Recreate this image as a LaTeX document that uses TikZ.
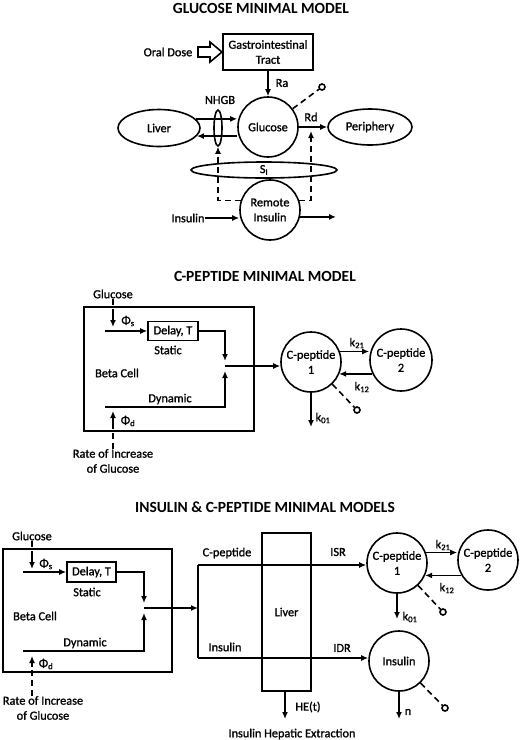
\documentclass[tikz,border=0pt]{standalone}
\usepackage{fontspec}
\setmainfont{Carlito}
\newfontfamily\lblfont{Carlito}[FakeBold=1.2]
\usetikzlibrary{arrows.meta,shapes.geometric}
\begin{document}
\begin{tikzpicture}[x=1pt,y=-1pt,
  lw/.style={line width=1.6pt},
  arr/.style={lw,-{Latex[length=7pt,width=6pt]}},
  dsh/.style={lw,dash pattern=on 6pt off 4pt},
  darr/.style={dsh,-{Latex[length=7pt,width=6pt]}},
  lbl/.style={font=\lblfont\fontsize{12.3}{15}\selectfont, inner sep=0pt, align=center},
  ttl/.style={font=\fontsize{15.5}{18}\selectfont\bfseries, inner sep=0pt},
  circ/.style={circle,draw,lw,minimum size=60pt,inner sep=0pt,align=center,font=\lblfont\fontsize{12.3}{15}\selectfont},
  ell/.style={ellipse,draw,lw,inner sep=0pt,font=\lblfont\fontsize{12.3}{15}\selectfont},
  boxn/.style={rectangle,draw,lw,inner sep=0pt,align=center,font=\lblfont\fontsize{12.3}{15}\selectfont},
  sinkc/.style={circle,draw,lw,minimum size=6pt,inner sep=0pt},
]
\useasboundingbox (0,0) rectangle (520,740);
\fill[white] (0,0) rectangle (520,740);

% ---------- Glucose minimal model ----------
\node[ttl] (t1) at (261,8) {GLUCOSE MINIMAL MODEL};
\node[boxn, minimum width=90pt, minimum height=36pt] (git) at (268,52) {Gastrointestinal\\Tract};
\node[lbl] (oral) at (168,52) {Oral Dose};
\draw[lw, fill=white] (198,47) -- (210,47) -- (210,42) -- (222,52) -- (210,62) -- (210,57) -- (198,57) -- cycle;
\node[circ] (glu) at (268,127) {Glucose};
\draw[arr] (git.south) -- (glu.north);
\node[lbl] (ra) at (282,83) {Ra};
\node[sinkc] (s1) at (322,87) {};
\draw[dsh] (glu) -- (s1);
\node[ell, minimum width=82pt, minimum height=37pt] (liver) at (159,128) {Liver};
\node[ell, minimum width=84pt, minimum height=36pt] (peri) at (370,127) {Periphery};
\draw[arr] (liver.14) -- (liver.14 -| glu.west);
\draw[arr] (liver.-12 -| glu.west) -- (liver.-12);
\node[ellipse, draw, lw, minimum width=8pt, minimum height=36pt, inner sep=0pt] (nhgb) at (218,128) {};
\node[lbl] (nhgbl) at (220,100) {NHGB};
\draw[arr] (glu) -- (peri);
\node[lbl] (rd) at (311,117) {Rd};
\node[ell, minimum width=146pt, minimum height=16pt] (si) at (264,170) {S\textsubscript{I}};
\node[circ] (rem) at (270,210) {Remote\\Insulin};
\coordinate (rdtip) at (311,131);
\draw[darr] (rem.162) -| (nhgb.south);
\draw[darr] (rem.18) -| (rdtip);
\node[lbl] (insin) at (188,218) {Insulin};
\draw[arr] (insin.east) -- (insin.east -| rem.west);
\coordinate (remout) at (336,0);
\draw[arr] (rem.-13) -- (rem.-13 -| remout);

% ---------- C-peptide minimal model ----------
\node[ttl] (t2) at (265,276) {C-PEPTIDE MINIMAL MODEL};
\node[lbl] (g2) at (113,294) {Glucose};
\node[boxn, minimum width=170pt, minimum height=124pt] (beta2) at (169,369) {};
\node[lbl] (bc2) at (117,373) {Beta Cell};
\coordinate (ps2) at (113,314);
\coordinate (ps2t) at (113,327);
\draw[dsh] (g2.south) -- (ps2);
\draw[arr] (ps2) -- (ps2t);
\node[lbl] (phis2) at (128,321) {Φ\textsubscript{s}};
\node[boxn, minimum width=50pt, minimum height=19pt] (d2) at (173,331) {Delay, T};
\coordinate (h2) at (105,331);
\draw[arr] (h2) -- (d2.west);
\node[lbl] (st2) at (168,350) {Static};
\coordinate (ja2) at (225,361);
\draw[arr] (d2.east) -| (ja2);
\coordinate (dy2) at (105,407);
\coordinate (jb2) at (225,371);
\draw[arr] (dy2) -| (jb2);
\node[lbl] (dyn2) at (170,399) {Dynamic};
\coordinate (jc2) at (225,366);
\node[circ] (c1) at (311,362) {C-peptide\\1};
\draw[arr] (jc2) -- (jc2 -| c1.west);
\coordinate (pd2) at (113,411);
\coordinate (pd2b) at (113,423);
\draw[arr] (pd2b) -- (pd2);
\node[lbl] (rate2) at (113,461) {Rate of Increase\\of Glucose};
\draw[dsh] (rate2.north) -- (pd2b);
\node[lbl] (phid2) at (128,421) {Φ\textsubscript{d}};
\node[circ, minimum size=62pt] (c2) at (401,360) {C-peptide\\2};
\draw[arr] (c1.20) -- (c1.20 -| c2.west);
\draw[arr] (c2.206) -- (c2.206 -| c1.-24);
\node[lbl] (k21a) at (357,343) {k\textsubscript{21}};
\node[lbl] (k12a) at (362,387) {k\textsubscript{12}};
\coordinate (k01e2) at (311,427);
\draw[arr] (c1.south) -- (k01e2);
\node[lbl] (k01a) at (323,418) {k\textsubscript{01}};
\node[sinkc] (s2) at (357,410) {};
\draw[dsh] (c1) -- (s2);

% ---------- Insulin & C-peptide minimal models ----------
\node[ttl] (t3) at (265,507) {INSULIN \& C-PEPTIDE MINIMAL MODELS};
\node[lbl] (g3) at (32,536) {Glucose};
\node[boxn, minimum width=169pt, minimum height=123pt] (beta3) at (87.5,610.5) {};
\node[lbl] (bc3) at (35,616) {Beta Cell};
\coordinate (ps3) at (32,557);
\coordinate (ps3t) at (32,569);
\draw[dsh] (g3.south) -- (ps3);
\draw[arr] (ps3) -- (ps3t);
\node[lbl] (phis3) at (46,564) {Φ\textsubscript{s}};
\node[boxn, minimum width=49pt, minimum height=20pt] (d3) at (91.5,572) {Delay, T};
\coordinate (h3) at (23,572);
\draw[arr] (h3) -- (d3.west);
\node[lbl] (st3) at (87,592) {Static};
\coordinate (ja3) at (144,603);
\draw[arr] (d3.east) -| (ja3);
\coordinate (dy3) at (23,651);
\coordinate (jb3) at (144,613);
\draw[arr] (dy3) -| (jb3);
\node[lbl] (dyn3) at (85,643) {Dynamic};
\coordinate (jc3) at (144,608);
\coordinate (ctop) at (198,565);
\coordinate (cbot) at (198,658);
\draw[arr] (jc3) -- (jc3 -| ctop);
\draw[lw] (ctop) -- (cbot);
\node[boxn, minimum width=49pt, minimum height=158pt] (liv3) at (286.5,612) {Liver};
\node[circ] (c1b) at (397,563) {C-peptide\\1};
\node[circ] (c2b) at (488,560) {C-peptide\\2};
\node[circ] (ins) at (399,661) {Insulin};
\draw[arr] (ctop) -- (ctop -| c1b.west);
\draw[arr] (cbot) -- (cbot -| ins.west);
\node[lbl] (cpl) at (227,553) {C-peptide};
\node[lbl] (isr) at (338,552) {ISR};
\node[lbl] (insl) at (225,647) {Insulin};
\node[lbl] (idr) at (342,648) {IDR};
\draw[arr] (c1b.20) -- (c1b.20 -| c2b.west);
\draw[arr] (c2b.210) -- (c2b.210 -| c1b.-24);
\node[lbl] (k21b) at (443,545) {k\textsubscript{21}};
\node[lbl] (k12b) at (447,588) {k\textsubscript{12}};
\coordinate (k01e3) at (397,619);
\draw[arr] (c1b.south) -- (k01e3);
\node[lbl] (k01b) at (410,617) {k\textsubscript{01}};
\node[sinkc] (s3) at (443,612) {};
\draw[dsh] (c1b) -- (s3);
\coordinate (ne) at (399,719);
\draw[arr] (ins.south) -- (ne);
\node[lbl] (nl) at (408,712) {n};
\node[sinkc] (s4) at (445,708) {};
\draw[dsh] (ins) -- (s4);
\coordinate (he) at (285,719);
\draw[arr] (liv3.south -| he) -- (he);
\node[lbl] (hel) at (308,707) {HE(t)};
\node[lbl] (hep) at (292,734) {Insulin Hepatic Extraction};
\node[lbl] (rate3) at (43,708) {Rate of Increase\\of Glucose};
\coordinate (pd3) at (32,656);
\coordinate (pd3b) at (32,666);
\draw[arr] (pd3b) -- (pd3);
\draw[dsh] (rate3.north -| pd3) -- (pd3b);
\node[lbl] (phid3) at (46,664) {Φ\textsubscript{d}};
\end{tikzpicture}
\end{document}
